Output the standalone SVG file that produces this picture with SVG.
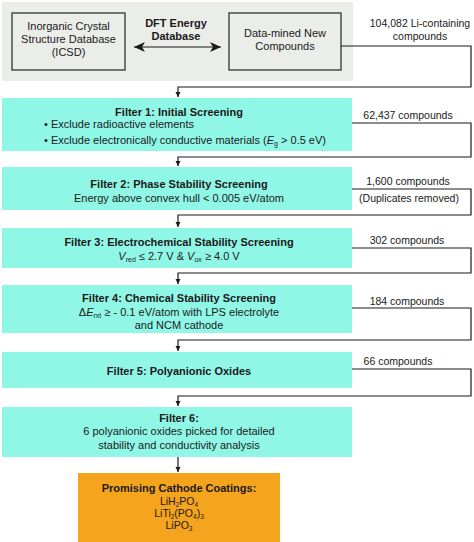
<svg xmlns="http://www.w3.org/2000/svg" width="474" height="542" viewBox="0 0 474 542">
<defs>
<marker id="ah" markerWidth="6" markerHeight="6" refX="5" refY="3" orient="auto" markerUnits="userSpaceOnUse">
<path d="M0,0.5 L5,3 L0,5.5 Z" fill="#1a1a1a"/>
</marker>
<marker id="dh" markerWidth="12" markerHeight="10" refX="11" refY="5" orient="auto-start-reverse" markerUnits="userSpaceOnUse">
<path d="M0,0 L11,5 L0,10 L3,5 Z" fill="#1a1a1a"/>
</marker>
<style>
text{font-family:"Liberation Sans",Arial,sans-serif;fill:#1a1a1a;text-anchor:middle}
.t{font-size:11px}
.b{font-size:11px;font-weight:bold}
.s{font-size:10.5px}
.f{fill:#90F7E7}
.o{fill:#F5A41D}
.box{fill:none;stroke:#333;stroke-width:1.3}
.c{fill:none;stroke:#1a1a1a;stroke-width:1.2}
.lab{font-size:10.5px}
</style>
</defs>
<rect x="2" y="2" width="351" height="79" fill="#EBEDE8"/>
<g id="icsd">
<rect class="box" x="12" y="13" width="113" height="57"/>
<text class="t" x="68.5" y="30">Inorganic Crystal</text>
<text class="t" x="68.5" y="43">Structure Database</text>
<text class="t" x="68.5" y="56">(ICSD)</text>
</g>
<g id="datamined">
<rect class="box" x="229" y="13" width="112" height="57"/>
<text class="t" x="285" y="37">Data-mined New</text>
<text class="t" x="285" y="50">Compounds</text>
</g>
<g id="dft">
<text class="b" x="176" y="27">DFT Energy</text>
<text class="b" x="176" y="40">Database</text>
</g>
<g id="filter1">
<rect class="f" x="2" y="98" width="350" height="53"/>
<text class="b" x="179" y="116">Filter 1: Initial Screening</text>
<text class="t" x="44" y="128" style="text-anchor:start">• Exclude radioactive elements</text>
<text class="t" x="44" y="144" style="text-anchor:start">• Exclude electronically conductive materials (<tspan font-style="italic">E</tspan><tspan font-size="7" dy="2">g</tspan><tspan dy="-2"> &gt; 0.5 eV)</tspan></text>
</g>
<g id="filter2">
<rect class="f" x="2" y="167" width="350" height="43"/>
<text class="b" x="179" y="188">Filter 2: Phase Stability Screening</text>
<text class="t" x="179" y="202">Energy above convex hull &lt; 0.005 eV/atom</text>
</g>
<g id="filter3">
<rect class="f" x="2" y="228" width="350" height="40"/>
<text class="b" x="179" y="246">Filter 3: Electrochemical Stability Screening</text>
<text class="t" x="179" y="260"><tspan font-style="italic">V</tspan><tspan font-size="7" dy="2">red</tspan><tspan dy="-2"> ≤ 2.7 V &amp; </tspan><tspan font-style="italic">V</tspan><tspan font-size="7" dy="2">ox</tspan><tspan dy="-2"> ≥ 4.0 V</tspan></text>
</g>
<g id="filter4">
<rect class="f" x="2" y="285" width="350" height="48"/>
<text class="b" x="179" y="302">Filter 4: Chemical Stability Screening</text>
<text class="t" x="179" y="316">Δ<tspan font-style="italic">E</tspan><tspan font-size="7" dy="2">rxt</tspan><tspan dy="-2"> ≥ - 0.1 eV/atom with LPS electrolyte</tspan></text>
<text class="t" x="179" y="329">and NCM cathode</text>
</g>
<g id="filter5">
<rect class="f" x="2" y="352" width="350" height="36"/>
<text class="b" x="179" y="375">Filter 5: Polyanionic Oxides</text>
</g>
<g id="filter6">
<rect class="f" x="2" y="407" width="350" height="50"/>
<text class="b" x="179" y="422">Filter 6:</text>
<text class="t" x="179" y="435">6 polyanionic oxides picked for detailed</text>
<text class="t" x="179" y="449">stability and conductivity analysis</text>
</g>
<g id="coatings">
<rect class="o" x="78" y="473" width="202" height="69"/>
<text class="b" x="179" y="492">Promising Cathode Coatings:</text>
<text class="s" x="179" y="505">LiH<tspan font-size="6.5" dy="2">2</tspan><tspan dy="-2">PO</tspan><tspan font-size="6.5" dy="2">4</tspan></text>
<text class="s" x="179" y="517">LiTi<tspan font-size="6.5" dy="2">2</tspan><tspan dy="-2">(PO</tspan><tspan font-size="6.5" dy="2">4</tspan><tspan dy="-2">)</tspan><tspan font-size="6.5" dy="2">3</tspan></text>
<text class="s" x="179" y="529">LiPO<tspan font-size="6.5" dy="2">3</tspan></text>
</g>
<g id="connectors">
<line class="c" x1="134" y1="47" x2="221" y2="47" marker-start="url(#dh)" marker-end="url(#dh)"/>
<path class="c" d="M341,46 H471 V87 H178 V97" marker-end="url(#ah)"/>
<path class="c" d="M352,123 H471 V157 H178 V166" marker-end="url(#ah)"/>
<path class="c" d="M352,189 H471 V215 H178 V227" marker-end="url(#ah)"/>
<path class="c" d="M352,248 H471 V273 H178 V284" marker-end="url(#ah)"/>
<path class="c" d="M352,308 H471 V340 H178 V351" marker-end="url(#ah)"/>
<path class="c" d="M352,369 H471 V396 H178 V406" marker-end="url(#ah)"/>
<path class="c" d="M178,457 V472" marker-end="url(#ah)"/>
</g>
<g id="labels">
<text class="lab" x="420" y="27">104,082 Li-containing</text>
<text class="lab" x="420" y="40">compounds</text>
<text class="lab" x="408" y="119">62,437 compounds</text>
<text class="lab" x="408" y="185">1,600 compounds</text>
<text class="lab" x="409" y="202">(Duplicates removed)</text>
<text class="lab" x="407" y="244">302 compounds</text>
<text class="lab" x="407" y="305">184 compounds</text>
<text class="lab" x="398" y="365">66 compounds</text>
</g>
</svg>
